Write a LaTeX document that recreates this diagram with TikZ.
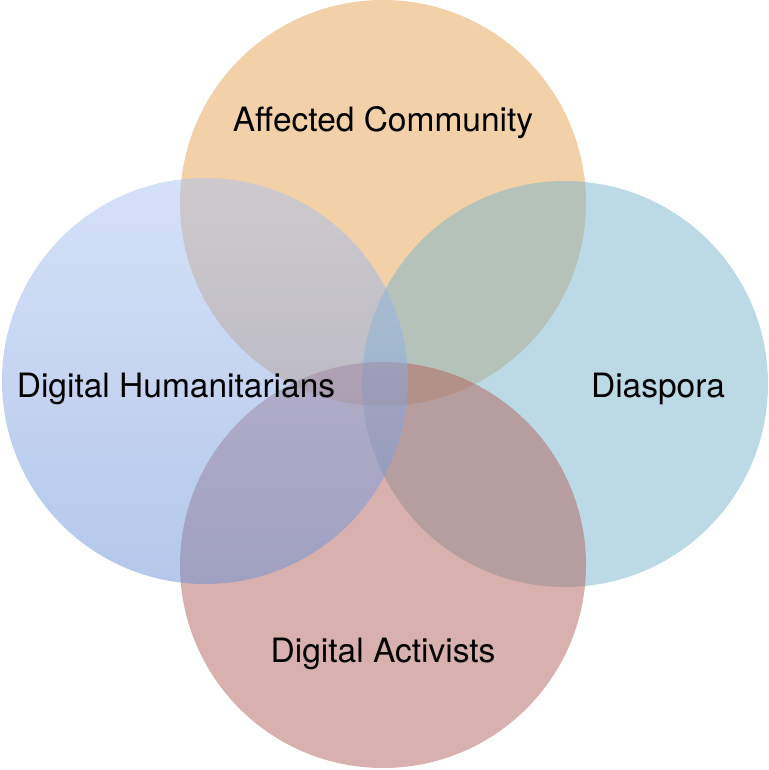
\documentclass[tikz,border=0pt]{standalone}
\usepackage{fontspec}
\setmainfont{TeX Gyre Heros}
\usepackage{xcolor}
\usetikzlibrary{positioning}

\definecolor{commfill}{RGB}{229,161,81}
\definecolor{diasfill}{RGB}{121,181,203}
\definecolor{actfill}{RGB}{177,97,93}
\definecolor{humtop}{RGB}{171,195,241}
\definecolor{humbot}{RGB}{105,145,215}

\begin{document}
\begin{tikzpicture}[x=1pt, y=-1pt,
    set/.style={circle, minimum size=406pt, inner sep=0pt, fill opacity=0.5},
    setlabel/.style={anchor=base, font=\fontsize{33.5}{40}\selectfont, text=black}]
\useasboundingbox (0,0) rectangle (768,770);
% The four groups
\node[set, fill=commfill] (comm) at (383,203) {};
\node[set, fill=diasfill] (dias) at (565,384) {};
\node[set, fill=actfill] (act) at (383,565) {};
\node[set, top color=humtop, bottom color=humbot] (hum) at (205,381) {};

% Labels
\node[setlabel] (commlabel) at (383,132) {Affected Community};
\node[setlabel] (humlabel) at (176,397) {Digital Humanitarians};
\node[setlabel] (diaslabel) at (658,397) {Diaspora};
\node[setlabel] (actlabel) at (383,662) {Digital Activists};
\end{tikzpicture}
\end{document}
